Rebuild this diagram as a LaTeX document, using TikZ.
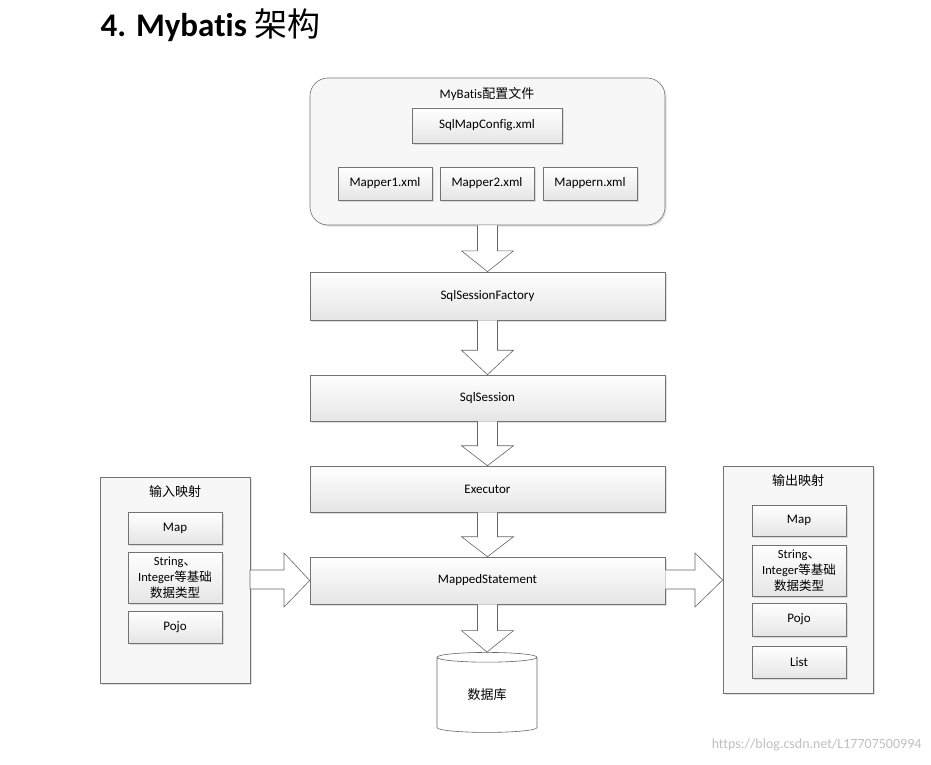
\documentclass[tikz,border=0pt]{standalone}
\usepackage{fontspec}
\setmainfont{Carlito}[RawFeature={-liga}]
\newfontfamily\cjk{Noto Sans CJK SC}
\usetikzlibrary{shapes.geometric,shadows,calc}
\newcommand{\zh}[1]{{\cjk #1}}
\begin{document}
\begin{tikzpicture}[x=1pt,y=-1pt,
  box/.style={draw=black!55,line width=0.6pt,top color=white,bottom color=black!10,
    drop shadow={shadow xshift=1.5pt,shadow yshift=-1.5pt,opacity=0.25},
    font=\fontsize{13}{15}\selectfont,align=center,inner sep=0pt},
  panel/.style={draw=black!55,line width=0.6pt,fill=black!3,
    drop shadow={shadow xshift=1.5pt,shadow yshift=-1.5pt,opacity=0.25},inner sep=0pt},
  barrow/.style={draw=black!60,line width=0.6pt,fill=white},
  lbl/.style={font=\fontsize{13}{15}\selectfont}]
\useasboundingbox (0,0) rectangle (931,765);
\node[anchor=west,font=\fontsize{33}{36}\selectfont] (title) at (97,25) {\textbf{4. Mybatis} \zh{架构}};
% config box
\node[panel,rounded corners=18pt,minimum width=355,minimum height=147] (cfg) at (487.5,151.5) {};
\node[lbl] (cfgl) at (487,94) {MyBatis\zh{配置文件}};
\node[box,minimum width=150,minimum height=35] (smc) at (487,125.5) {SqlMapConfig.xml};
\node[box,minimum width=94,minimum height=33] (m1) at (385,183.5) {Mapper1.xml};
\node[box,minimum width=94,minimum height=33] (m2) at (487,183.5) {Mapper2.xml};
\node[box,minimum width=94,minimum height=33] (mn) at (590,183.5) {Mappern.xml};
% main chain
\node[box,minimum width=355,minimum height=48] (ssf) at (487.5,296) {SqlSessionFactory};
\node[box,minimum width=355,minimum height=46] (ss) at (487.5,398) {SqlSession};
\node[box,minimum width=355,minimum height=46] (ex) at (487.5,489) {Executor};
\node[box,minimum width=355,minimum height=47] (ms) at (487.5,580.5) {MappedStatement};
\node[cylinder,shape border rotate=90,aspect=0.25,draw=black!60,line width=0.6pt,fill=white,
  minimum width=100,minimum height=80,inner sep=0pt,lbl] (db) at (487,695) {\zh{数据库}};
% down block arrows
\foreach \a/\b in {cfg/ssf,ssf/ss,ss/ex,ex/ms,ms/db}{
  \path (\a.south) coordinate (t) (\b.north) coordinate (h);
  \draw[barrow] let \p1=(t),\p2=(h),\n1={\y2+0.45*(\y1-\y2)} in
    (\x1-10,\y1) -- (\x1-10,\n1) -- (\x1-26,\n1) -- (\x2,\y2) -- (\x1+26,\n1) -- (\x1+10,\n1) -- (\x1+10,\y1);
}
% left panel
\node[panel,minimum width=150,minimum height=206] (in) at (175,580) {};
\node[lbl] (inl) at (175,492) {\zh{输入映射}};
\node[box,minimum width=94,minimum height=32] (imap) at (175,528) {Map};
\node[box,minimum width=94,minimum height=51,font=\fontsize{12.5}{16}\selectfont] (istr) at (175,577.5) {String\zh{、}\\Integer\zh{等基础}\\\zh{数据类型}};
\node[box,minimum width=94,minimum height=32] (ipojo) at (175,627) {Pojo};
% right panel
\node[panel,minimum width=150,minimum height=227] (out) at (798,579.5) {};
\node[lbl] (outl) at (798,481) {\zh{输出映射}};
\node[box,minimum width=94,minimum height=31] (omap) at (799,520.5) {Map};
\node[box,minimum width=94,minimum height=51,font=\fontsize{12.5}{16}\selectfont] (ostr) at (799,570.5) {String\zh{、}\\Integer\zh{等基础}\\\zh{数据类型}};
\node[box,minimum width=94,minimum height=33] (opojo) at (799,619.5) {Pojo};
\node[box,minimum width=94,minimum height=32] (olist) at (799,662) {List};
% horizontal block arrows
\path (ms.west) coordinate (lh);
\draw[barrow] (250,570) -- (284,570) -- (284,553) -- (lh) -- (284,607) -- (284,589) -- (250,589) -- cycle;
\path (ms.east) coordinate (rt) (out.west |- 0,580) coordinate (rh);
\draw[barrow] (rt |- 0,570) -- (695,570) -- (695,553) -- (rh) -- (695,607) -- (695,589) -- (rt |- 0,589);
\node[anchor=east,text=black!25,font=\fontsize{14}{16}\selectfont] (wm) at (925,745) {https://blog.csdn.net/L17707500994};
\end{tikzpicture}
\end{document}
